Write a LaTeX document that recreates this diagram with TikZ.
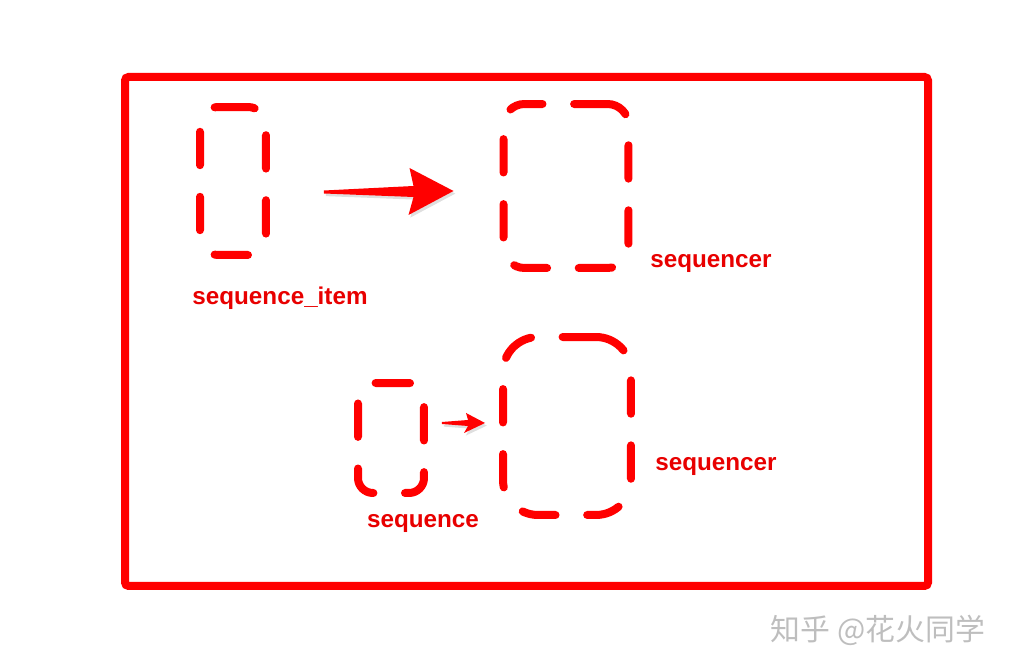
\documentclass[tikz,border=0pt]{standalone}
\usepackage{fontspec}
\setmainfont{Liberation Sans}
\newfontfamily\cjkfont{Noto Sans CJK SC}
\usetikzlibrary{calc,shadows}

\definecolor{framered}{RGB}{255,0,0}
\definecolor{labelred}{RGB}{232,0,0}
\definecolor{markgray}{RGB}{190,190,190}

\tikzset{
  blob/.style={shape=rectangle,draw=framered,line width=0.16cm,line cap=round,
    dash pattern=on 19pt off 18pt,inner sep=0pt},
  tag/.style={text=labelred,font=\bfseries\fontsize{13.8}{16}\selectfont,anchor=base,inner sep=0pt},
  fatarrow/.style={fill=framered,drop shadow={opacity=0.25,shadow xshift=1pt,shadow yshift=-1.5pt}}
}

\begin{document}
\begin{tikzpicture}[x=0.02cm,y=-0.02cm]
        \useasboundingbox (0,0) rectangle (1012,671);

        % outer frame
        \draw[framered,line width=0.16cm,rounded corners=2pt] (125,77) rectangle (928,586);

        % dashed boxes
        \node[blob,minimum width=1.32cm,minimum height=2.96cm,rounded corners=0.36cm] (item)  at (233,181) {};
        \node[blob,minimum width=2.50cm,minimum height=3.28cm,rounded corners=0.42cm] (seqrA) at (566,186) {};
        \node[blob,minimum width=1.32cm,minimum height=2.20cm,rounded corners=0.30cm] (seq)   at (391,438) {};
        \node[blob,minimum width=2.56cm,minimum height=3.56cm,rounded corners=0.70cm] (seqrB) at (567,426) {};

        % labels
        \node[tag] (itemlbl)  at (280,305) {sequence\_item};
        \node[tag] (seqrAlbl) at (711,268) {sequencer};
        \node[tag] (seqlbl)   at (423,528) {sequence};
        \node[tag] (seqrBlbl) at (716,471) {sequencer};

        % arrows
        \coordinate (t1) at ($(item.east)+(54,11)$);
        \coordinate (h1) at ($(seqrA.west)+(-46,5)$);
        \fill[fatarrow] ($(t1)+(0,-1.5)$) -- ($(h1)+(-40,-5)$) -- ($(h1)+(-44,-23)$) -- (h1)
              -- ($(h1)+(-45,24)$) -- ($(h1)+(-40,6)$) -- ($(t1)+(0,1.5)$) -- cycle;

        \coordinate (t2) at ($(seq.east)+(14,-15)$);
        \coordinate (h2) at ($(seqrB.west)+(-14,-3)$);
        \fill[fatarrow] ($(t2)+(0,-1)$) -- ($(h2)+(-17,-3)$) -- ($(h2)+(-19,-10)$) -- (h2)
              -- ($(h2)+(-21,10)$) -- ($(h2)+(-17,3)$) -- ($(t2)+(0,1)$) -- cycle;

        % watermark
        \node[text=markgray,font=\cjkfont\fontsize{17}{19}\selectfont] (mark) at (878,630) {知乎 @花火同学};
\end{tikzpicture}
\end{document}
